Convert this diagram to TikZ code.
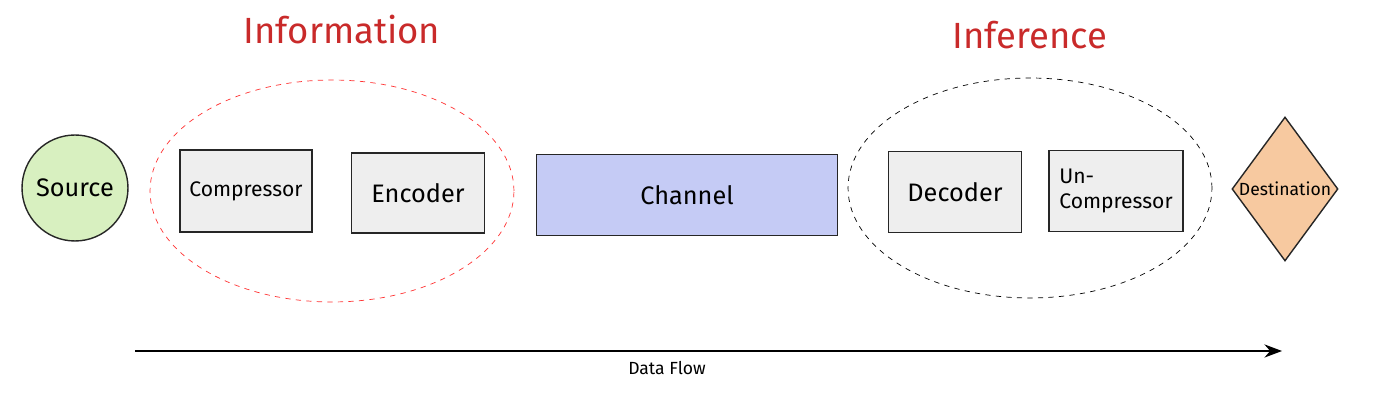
\documentclass[tikz,border=0pt]{standalone}
\usepackage{fontspec}
\setmainfont{Fira Sans}
\usetikzlibrary{shapes.geometric,arrows.meta}
\definecolor{boxfill}{HTML}{EEEEEE}
\definecolor{srcfill}{HTML}{D8F0C0}
\definecolor{chfill}{HTML}{C5CBF5}
\definecolor{dstfill}{HTML}{F7C9A0}
\definecolor{redt}{HTML}{C92A2A}
\begin{document}
\begin{tikzpicture}[x=0.02cm,y=-0.02cm,
  box/.style={draw=black!85,thick,fill=boxfill,font=\large},
  title/.style={text=redt,font=\huge}]
\useasboundingbox (0,0) rectangle (1400,404);
\fill[white] (0,0) rectangle (1400,404);
\node[circle,draw=black!85,thick,fill=srcfill,minimum size=2.12cm,font=\Large] (src) at (75,188) {Source};
\node[ellipse,draw=red!80,dashed,minimum width=7.28cm,minimum height=4.44cm] (info) at (332,191) {};
\node[ellipse,draw=black,dashed,minimum width=7.28cm,minimum height=4.4cm] (inf) at (1030,188) {};
\node[box,minimum width=2.64cm,minimum height=1.64cm] (comp) at (246,191) {Compressor};
\node[box,minimum width=2.66cm,minimum height=1.6cm,font=\Large] (enc) at (418,193) {Encoder};
\node[box,fill=chfill,minimum width=6.02cm,minimum height=1.62cm,font=\Large] (ch) at (687,195) {Channel};
\node[box,minimum width=2.66cm,minimum height=1.62cm,font=\Large] (dec) at (955,192) {Decoder};
\node[box,minimum width=2.68cm,minimum height=1.62cm,align=left] (unc) at (1116,191) {Un-\\Compressor};
\node[diamond,draw=black!85,thick,fill=dstfill,minimum width=2cm,minimum height=2.88cm,inner sep=0pt] (dst) at (1285,189) {Destination};
\node[title] at (342,30) {Information};
\node[title] at (1030,35) {Inference};
\coordinate (a) at (135,351);
\coordinate (b) at (1282,351);
\draw[thick,-{Stealth[length=10pt]}] (a) -- (b);
\node (df) at (667,368) {Data Flow};
\end{tikzpicture}
\end{document}
